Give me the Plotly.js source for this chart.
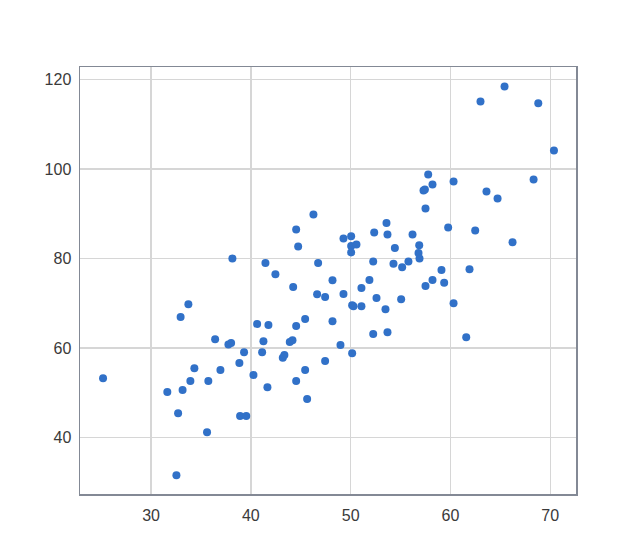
<!DOCTYPE html>
<html>
<head>
<meta charset="utf-8">
<script src="https://cdn.plot.ly/plotly-3.0.1.min.js"></script>
<style>html,body{margin:0;padding:0;background:#fff;}#chart{width:640px;height:556px;}</style>
</head>
<body>
<div id="chart"></div>
<script>
const xValues = [25.19, 32.54, 32.71, 31.63, 33.16, 33.94, 34.34, 35.74, 35.61, 36.95,
  36.42, 37.75, 38.02, 38.85, 39.32, 38.92, 39.54, 33.74, 32.96, 38.15,
  40.26, 40.63, 41.13, 41.26, 41.46, 41.66, 41.76, 42.46, 43.20, 43.36,
  43.90, 44.17, 44.24, 44.54, 44.74, 44.54, 44.54, 45.44, 45.44, 45.64,
  46.27, 46.64, 46.74, 47.44, 47.44, 48.18, 48.18, 48.98, 49.28, 49.28,
  50.05, 50.05, 50.58, 50.05, 50.15, 50.15, 51.08, 51.08, 51.88, 52.26,
  52.26, 52.36, 52.59, 53.49, 53.59, 53.69, 53.69, 54.29, 54.43, 55.06,
  55.16, 55.79, 56.20, 56.87, 56.80, 56.90, 57.30, 57.44, 57.50, 57.50,
  57.77, 58.20, 58.20, 59.10, 59.37, 59.77, 60.31, 60.31, 61.58, 61.91,
  62.48, 63.01, 63.61, 64.72, 65.42, 66.22, 68.33, 68.80, 70.37, 50.28];
const yValues = [53.26, 31.61, 45.45, 50.20, 50.65, 52.66, 55.49, 52.66, 41.21, 55.11,
  61.96, 60.80, 61.14, 56.67, 59.06, 44.84, 44.84, 69.78, 66.94, 80.04,
  54.00, 65.38, 59.06, 61.52, 79.00, 51.25, 65.16, 76.47, 57.86, 58.46,
  61.36, 61.74, 73.64, 86.52, 82.72, 64.93, 52.66, 66.50, 55.11, 48.64,
  89.87, 72.01, 79.00, 71.41, 57.12, 75.13, 65.98, 60.69, 84.51, 72.08,
  84.96, 82.79, 83.17, 81.38, 58.84, 69.55, 73.42, 69.33, 75.20, 79.37,
  63.15, 85.85, 71.18, 68.66, 87.92, 85.40, 63.53, 78.84, 82.34, 70.89,
  78.04, 79.37, 85.40, 82.95, 81.23, 80.04, 95.22, 95.45, 91.21, 73.86,
  98.79, 96.56, 75.20, 77.43, 74.60, 86.96, 97.23, 70.00, 62.41, 77.59,
  86.29, 115.09, 95.00, 93.44, 118.44, 83.62, 97.68, 114.71, 104.15, 69.33];
const xTicks = [30, 40, 50, 60, 70];
const yTicks = [40, 60, 80, 100, 120];

const axisCommon = {
  showline: true, mirror: true, linecolor: '#838995', linewidth: 1.5,
  showgrid: true, gridcolor: '#d6d6d6', gridwidth: 1.5,
  zeroline: false, ticks: '',
  tickfont: {family: 'Liberation Sans, Arial, sans-serif', size: 16, color: '#3a3a3a'}
};

Plotly.newPlot('chart', [{
  type: 'scatter', mode: 'markers', x: xValues, y: yValues,
  marker: {color: '#3171c8', size: 8, line: {width: 0}}
}], {
  width: 640, height: 556,
  margin: {l: 80, r: 64, t: 67, b: 62},
  paper_bgcolor: '#ffffff', plot_bgcolor: '#ffffff',
  showlegend: false,
  xaxis: Object.assign({}, axisCommon, {range: [22.88, 72.58], tickvals: xTicks, ticklabelstandoff: 6}),
  yaxis: Object.assign({}, axisCommon, {range: [27.4, 122.8], tickvals: yTicks, ticklabelstandoff: 4})
}, {displayModeBar: false, staticPlot: true});
</script>
</body>
</html>
